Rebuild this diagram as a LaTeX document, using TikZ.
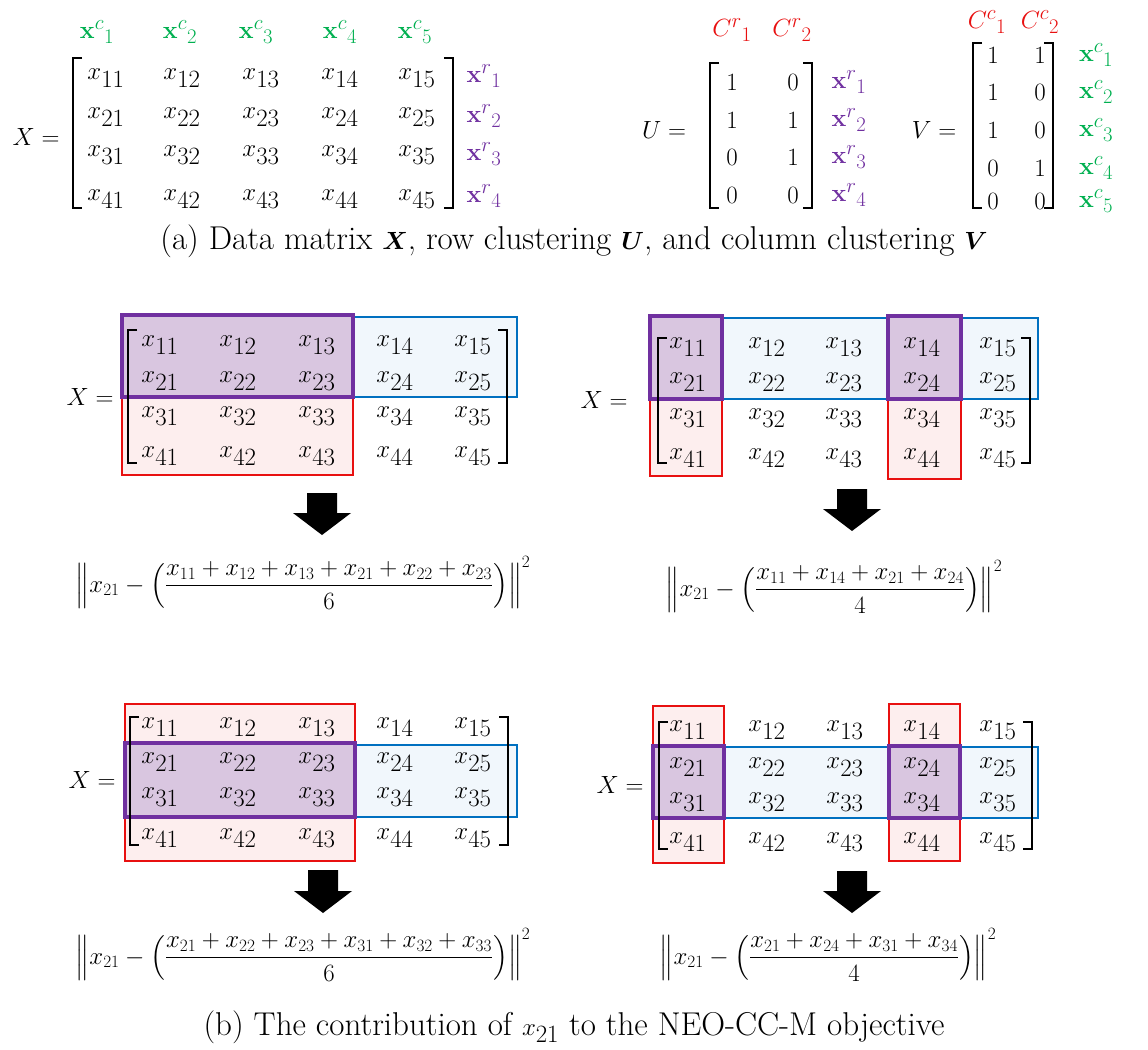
\documentclass[tikz,border=0pt]{standalone}
\usepackage{amsmath,bm}
\definecolor{cgreen}{HTML}{00B050}
\definecolor{cpurple}{HTML}{7030A0}
\definecolor{cred}{HTML}{E81010}
\definecolor{cblue}{HTML}{0070C0}
\definecolor{fpurple}{HTML}{D9C6E0}
\definecolor{fblue}{HTML}{F1F7FC}
\definecolor{fred}{HTML}{FDEEEE}
\tikzset{
 ent/.style={inner sep=0pt,font=\fontsize{40}{46}\selectfont},
 lbl/.style={inner sep=0pt,font=\fontsize{30}{34}\selectfont},
 fml/.style={inner sep=0pt,font=\fontsize{25}{30}\selectfont},
 captxt/.style={inner sep=0pt,font=\fontsize{33}{38}\selectfont},
 brk/.style={line width=2.4pt},
 pbox/.style={draw=cpurple,fill=fpurple,line width=4.5pt},
 bbox/.style={draw=cblue,fill=fblue,line width=2.6pt},
 rbox/.style={draw=cred,fill=fred,line width=2.6pt},
}
\newcommand\xmat[3]{\foreach \r/\yy in {#3}{\foreach \c/\xx in {#2}{\node[ent] (#1\r\c) at (\xx,\yy) {$x_{\r\c}$};}}}
\newcommand\brackets[4]{\draw[brk] (#1+9,#3)--(#1,#3)--(#1,#4)--(#1+9,#4); \draw[brk] (#2-9,#3)--(#2,#3)--(#2,#4)--(#2-9,#4);}
\newcommand\blockarrow[3]{\fill (#1-15,#2)--(#1+15,#2)--(#1+15,#3-22)--(#1+29,#3-22)--(#1,#3)--(#1-29,#3-22)--(#1-15,#3-22)--cycle;}
\begin{document}
\begin{tikzpicture}[x=1pt,y=-1pt]
\useasboundingbox (0,0) rectangle (1148,1049);
% ---------------- (a) X
\node[ent] (Xa) at (36,137) {$X=$};
\xmat{a}{1/106,2/182,3/261,4/340,5/417}{1/78,2/117,3/155,4/199}
\brackets{73}{453}{58}{208}
\foreach \c/\xx in {1/97,2/180,3/256,4/340,5/415}{\node[lbl,text=cgreen] (ac\c) at (\xx,32) {$\mathbf{x}^{c}{}_{\c}$};}
\foreach \r/\yy in {1/76,2/116,3/154,4/196}{\node[lbl,text=cpurple] (ar\r) at (484,\yy) {$\mathbf{x}^{r}{}_{\r}$};}
% U
\node[ent] (Ua) at (664,130) {$U=$};
\brackets{710}{812}{63}{208}
\foreach \r/\yy/\p/\q in {1/82/1/0,2/120/1/1,3/157/0/1,4/195/0/0}{
 \node[ent] (u\r1) at (732,\yy) {$\p$}; \node[ent] (u\r2) at (793,\yy) {$\q$};}
\foreach \c/\xx in {1/732,2/792}{\node[lbl,text=cred] (uc\c) at (\xx,30) {$C^{r}{}_{\c}$};}
\foreach \r/\yy in {1/82,2/120,3/157,4/195}{\node[lbl,text=cpurple] (ur\r) at (849,\yy) {$\mathbf{x}^{r}{}_{\r}$};}
% V
\node[ent] (Va) at (934,130) {$V=$};
\brackets{973}{1053}{43}{208}
\foreach \r/\yy/\p/\q in {1/55/1/1,2/92/1/0,3/130/1/0,4/168/0/1,5/201/0/0}{
 \node[ent] (v\r1) at (993,\yy) {$\p$}; \node[ent] (v\r2) at (1040,\yy) {$\q$};}
\foreach \c/\xx in {1/987,2/1040}{\node[lbl,text=cred] (vc\c) at (\xx,22) {$C^{c}{}_{\c}$};}
\foreach \r/\yy in {1/55,2/92,3/130,4/168,5/201}{\node[lbl,text=cgreen] (vr\r) at (1096,\yy) {$\mathbf{x}^{c}{}_{\r}$};}
\node[captxt] (capa) at (574,241) {(a) Data matrix $\bm{X}$, row clustering $\bm{U}$, and column clustering $\bm{V}$};
% ---------------- (b1)
\draw[bbox] (353,317) rectangle (517,397);
\draw[rbox] (122,397) rectangle (353,475);
\draw[pbox] (122,315) rectangle (353,397);
\node[ent] (Xb1) at (90,397) {$X=$};
\xmat{p}{1/160,2/238,3/317,4/395,5/473}{1/345,2/381,3/416,4/456}
\brackets{128}{507}{330}{463}
\blockarrow{322}{493}{535}
\node[fml] (f1) at (303,583) {$\displaystyle\left\|x_{21}-\left(\frac{x_{11}+x_{12}+x_{13}+x_{21}+x_{22}+x_{23}}{6}\right)\right\|^{2}$};
% ---------------- (b2)
\draw[bbox] (650,318) rectangle (1038,399);
\draw[rbox] (650,399) rectangle (722,476);
\draw[rbox] (888,399) rectangle (961,479);
\draw[pbox] (650,316) rectangle (722,399);
\draw[pbox] (888,316) rectangle (961,399);
\node[ent] (Xb2) at (604,400) {$X=$};
\xmat{q}{1/688,2/767,3/844,4/922,5/998}{1/347,2/382,3/418,4/458}
\brackets{658}{1030}{338}{463}
\blockarrow{852}{489}{531}
\node[fml] (f2) at (834,587) {$\displaystyle\left\|x_{21}-\left(\frac{x_{11}+x_{14}+x_{21}+x_{24}}{4}\right)\right\|^{2}$};
% ---------------- (b3)
\draw[rbox] (125,704) rectangle (355,861);
\draw[bbox] (355,745) rectangle (517,817);
\draw[pbox] (125,743) rectangle (355,817);
\node[ent] (Xb3) at (92,780) {$X=$};
\xmat{s}{1/160,2/238,3/317,4/395,5/473}{1/727,2/762,3/797,4/838}
\brackets{130}{508}{717}{845}
\blockarrow{323}{870}{913}
\node[fml] (f3) at (303,955) {$\displaystyle\left\|x_{21}-\left(\frac{x_{21}+x_{22}+x_{23}+x_{31}+x_{32}+x_{33}}{6}\right)\right\|^{2}$};
% ---------------- (b4)
\draw[rbox] (653,706) rectangle (724,863);
\draw[rbox] (889,704) rectangle (960,861);
\draw[bbox] (653,747) rectangle (1038,818);
\draw[pbox] (653,746) rectangle (724,818);
\draw[pbox] (889,746) rectangle (960,818);
\node[ent] (Xb4) at (620,785) {$X=$};
\xmat{t}{1/688,2/767,3/845,4/922,5/998}{1/730,2/767,3/802,4/842}
\brackets{659}{1032}{722}{849}
\blockarrow{852}{871}{913}
\node[fml] (f4) at (828,955) {$\displaystyle\left\|x_{21}-\left(\frac{x_{21}+x_{24}+x_{31}+x_{34}}{4}\right)\right\|^{2}$};
\node[captxt] (capb) at (574,1027) {(b) The contribution of $x_{21}$ to the NEO-CC-M objective};
\end{tikzpicture}
\end{document}
